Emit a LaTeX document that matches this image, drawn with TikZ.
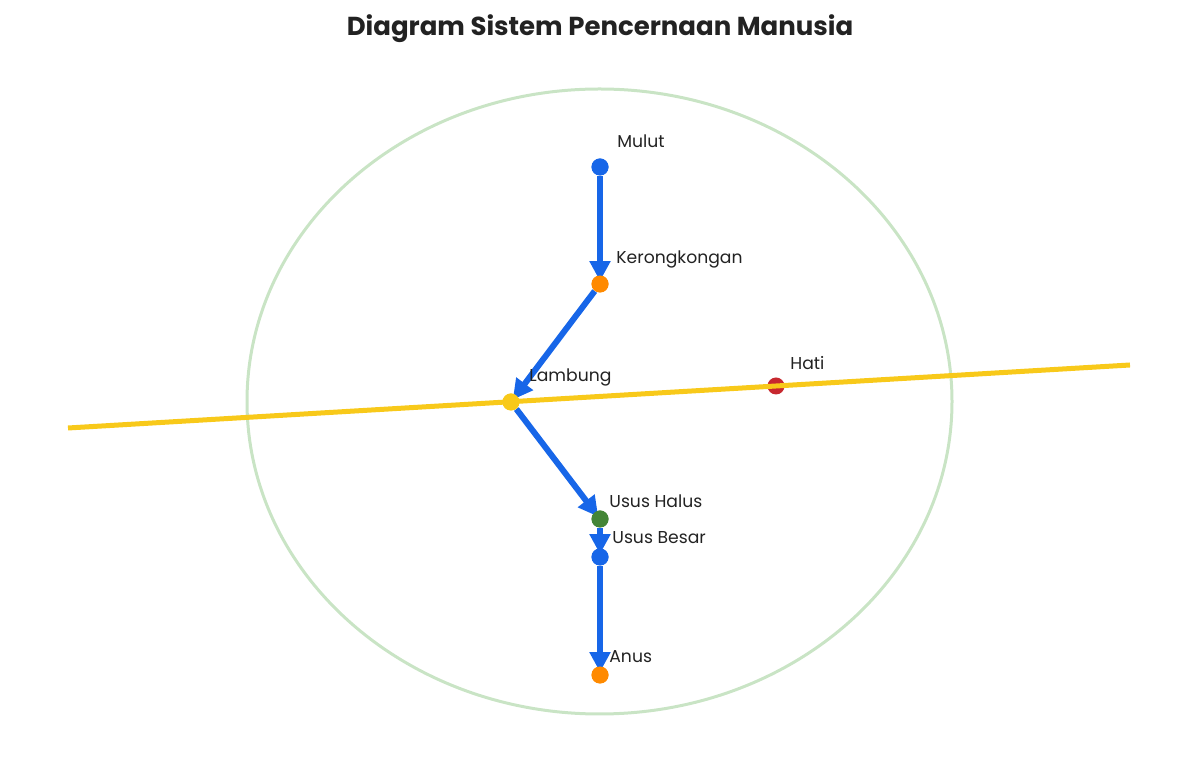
\documentclass[tikz,border=0pt]{standalone}
\usepackage{fontspec}
\setmainfont{Poppins}
\usetikzlibrary{arrows.meta}
\definecolor{flowblue}{HTML}{1766E8}
\definecolor{organorange}{HTML}{FF8A00}
\definecolor{organyellow}{HTML}{F8C91A}
\definecolor{organgreen}{HTML}{438536}
\definecolor{organred}{HTML}{C7282F}
\definecolor{bodygreen}{HTML}{C9E4C5}
\definecolor{txt}{HTML}{222222}
\tikzset{
organ/.style={circle, fill=#1, inner sep=0pt, minimum size=8.5pt},
organlbl/.style={anchor=west, inner sep=0pt, text=txt, font=\fontsize{8.6}{10}\selectfont},
flow/.style={draw=flowblue, line width=3pt, shorten >=-3pt, -{Triangle[length=10pt,width=10pt]}},
axis/.style={draw=organyellow, line width=2.5pt}
}
\begin{document}
\begin{tikzpicture}[x=0.5pt, y=-0.5pt]
\useasboundingbox (0,0) rectangle (1200,763);
\node[text=txt, font=\fontsize{13}{16}\selectfont\bfseries] (title) at (600,29) {Diagram Sistem Pencernaan Manusia};
\draw[bodygreen, line width=1.5pt] (599.5,401.5) ellipse [x radius=352.5, y radius=312.5];
\node[organ=organred] (hati) at (776,386) {};
\coordinate (axisL) at (68,428);
\coordinate (axisR) at (1130,365);
\draw[axis] (axisL) -- (axisR);
\node[organ=flowblue] (mulut) at (600,167) {};
\node[organ=organorange] (kerong) at (600,284) {};
\node[organ=organyellow] (lambung) at (511,402) {};
\node[organ=organgreen] (halus) at (600,519) {};
\node[organ=flowblue] (besar) at (600,557) {};
\node[organ=organorange] (anus) at (600,675) {};
\draw[flow] (mulut) -- (kerong);
\draw[flow] (kerong) -- (lambung);
\draw[flow] (lambung) -- (halus);
\draw[flow] (halus) -- (besar);
\draw[flow] (besar) -- (anus);
\node[organ=flowblue] at (mulut) {};
\node[organ=organorange] at (kerong) {};
\node[organ=organyellow] at (lambung) {};
\node[organ=organgreen] at (halus) {};
\node[organ=flowblue] at (besar) {};
\node[organ=organorange] at (anus) {};
\node[organlbl] (mulut-t) at (617,141) {Mulut};
\node[organlbl] (kerong-t) at (616,259) {Kerongkongan};
\node[organlbl] (lambung-t) at (529,377) {Lambung};
\node[organlbl] (hati-t) at (790,363) {Hati};
\node[organlbl] (halus-t) at (609,501) {Usus Halus};
\node[organlbl] (besar-t) at (612,538) {Usus Besar};
\node[organlbl] (anus-t) at (609,657) {Anus};
\end{tikzpicture}
\end{document}
